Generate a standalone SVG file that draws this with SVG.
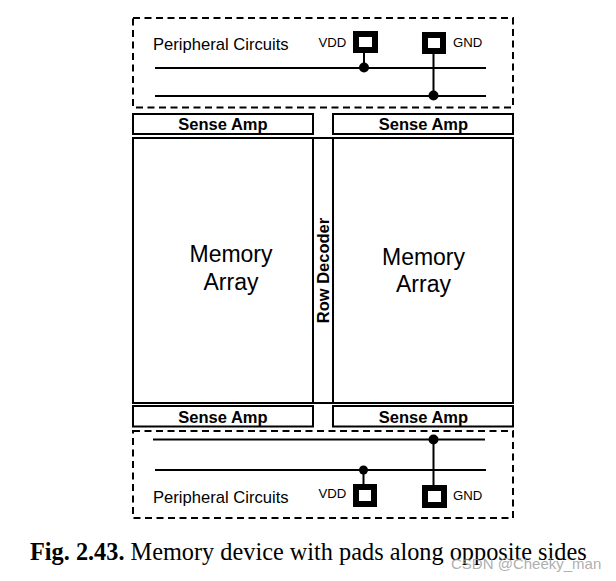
<svg xmlns="http://www.w3.org/2000/svg" width="616" height="581" viewBox="0 0 616 581">
<style>
.box{fill:none;stroke:#000;stroke-width:2}
.dash{fill:none;stroke:#000;stroke-width:2;stroke-dasharray:7 4.5}
.wire{fill:none;stroke:#000;stroke-width:2}
.pad{fill:#fff;stroke:#000;stroke-width:6}
.dot{fill:#000}
text{font-family:"Liberation Sans",Arial,sans-serif;fill:#000}
.sa{font-size:16.5px;font-weight:bold;text-anchor:middle}
.pc{font-size:16.600px}
.pin{font-size:13.200px}
.ma{font-size:23px;text-anchor:middle}
.cap{font-family:"Liberation Serif",serif;font-size:24.300px}
.wm{font-size:15px;fill:#999;fill-opacity:.8}
</style>
<rect width="616" height="581" fill="#fff"/>
<g id="periph-top"><rect class="dash" x="133" y="18" width="380" height="89.500"/><text class="pc" x="153" y="49.500">Peripheral Circuits</text></g>
<g id="vdd-top"><rect class="pad" x="356" y="34" width="19" height="16"/><text class="pin" x="318.500" y="47">VDD</text></g>
<g id="gnd-top"><rect class="pad" x="425" y="35" width="18" height="16"/><text class="pin" x="453" y="47">GND</text></g>
<g id="sa-tl"><rect class="box" x="133" y="114" width="180" height="20"/><text class="sa" x="223" y="129.500">Sense Amp</text></g>
<g id="sa-tr"><rect class="box" x="333" y="114" width="180" height="20"/><text class="sa" x="423.500" y="129.500">Sense Amp</text></g>
<g id="array-l"><rect class="box" x="133" y="138" width="180" height="265"/><text class="ma" x="231" y="262">Memory</text><text class="ma" x="231" y="290">Array</text></g>
<g id="decoder"><rect class="box" x="313" y="138" width="20" height="265"/><text class="sa" transform="translate(328.500 270.500) rotate(-90)">Row Decoder</text></g>
<g id="array-r"><rect class="box" x="333" y="138" width="180" height="265"/><text class="ma" x="423.500" y="265">Memory</text><text class="ma" x="423.500" y="292">Array</text></g>
<g id="sa-bl"><rect class="box" x="133" y="406" width="180" height="20.500"/><text class="sa" x="223" y="422.500">Sense Amp</text></g>
<g id="sa-br"><rect class="box" x="333" y="406" width="180" height="20.500"/><text class="sa" x="423.500" y="422.500">Sense Amp</text></g>
<g id="periph-bottom"><rect class="dash" x="133" y="431" width="380" height="87"/><text class="pc" x="153" y="503">Peripheral Circuits</text></g>
<g id="vdd-bottom"><rect class="pad" x="356" y="487" width="18" height="17"/><text class="pin" x="318.500" y="498">VDD</text></g>
<g id="gnd-bottom"><rect class="pad" x="425" y="488" width="19" height="17"/><text class="pin" x="453" y="500">GND</text></g>
<g id="connectors">
<path class="wire" d="M155 68H486M155 96H486M364 52V68M433.500 52V96M153 439.500H485M155 470H486M363.500 470V484M433.500 439.500V485"/>
<circle class="dot" cx="364" cy="67.500" r="5"/><circle class="dot" cx="433.500" cy="95.500" r="5"/><circle class="dot" cx="433.500" cy="439.500" r="5"/><circle class="dot" cx="363.500" cy="470" r="4.500"/>
</g>
<text class="cap" x="30" y="560"><tspan font-weight="bold">Fig. 2.43.</tspan> Memory device with pads along opposite sides</text>
<text class="wm" x="451" y="569">CSDN @Cheeky_man</text>
</svg>
